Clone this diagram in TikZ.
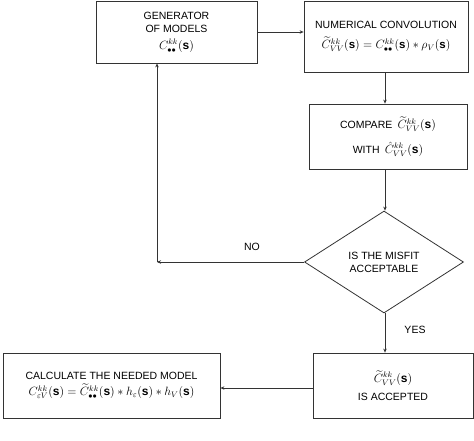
\documentclass[tikz,border=0pt]{standalone}
\usepackage{amsmath}
\usepackage{fontspec}
\setmainfont{Liberation Sans}
\usetikzlibrary{shapes.geometric,arrows.meta}
\begin{document}
\begin{tikzpicture}[x=1pt,y=-1pt,
  box/.style={draw=black!80,line width=0.8pt,align=center,inner sep=0pt,font=\fontsize{10.5}{13}\selectfont},
  link/.style={draw=black!80,line width=0.8pt,-{Stealth[length=4pt,width=3.5pt]}},
  lbl/.style={font=\fontsize{10.5}{13}\selectfont}]
\useasboundingbox (0,0) rectangle (474,440);
% boxes
\node[box,minimum width=161pt,minimum height=62pt] (gen) at (176.5,32) {GENERATOR\\OF MODELS\\[4pt]\fontsize{12}{14}\selectfont$C^{kk}_{\bullet\bullet}(\mathbf{s})$};
\node[box,minimum width=164pt,minimum height=71pt] (conv) at (386,36.5) {NUMERICAL CONVOLUTION\\[7pt]\fontsize{11.5}{14}\selectfont$\widetilde{C}^{kk}_{VV}(\mathbf{s})=C^{kk}_{\bullet\bullet}(\mathbf{s})*\rho_V(\mathbf{s})$};
\node[box,minimum width=158pt,minimum height=65pt] (comp) at (388,136.5) {COMPARE\enspace\fontsize{12}{14}\selectfont$\widetilde{C}^{kk}_{VV}(\mathbf{s})$\\[9pt]\fontsize{10.5}{13}\selectfont WITH\enspace\fontsize{12}{14}\selectfont$\hat{C}^{kk}_{VV}(\mathbf{s})$};
\node[box,diamond,aspect=1.56,minimum width=159pt,minimum height=102pt] (fit) at (384,262) {IS THE MISFIT\\ACCEPTABLE};
\node[box,minimum width=160pt,minimum height=65pt] (acc) at (393,385.5) {\fontsize{12}{14}\selectfont$\widetilde{C}^{kk}_{VV}(\mathbf{s})$\\[5pt]IS ACCEPTED};
\node[box,minimum width=217pt,minimum height=65pt] (calc) at (111.5,385.5) {CALCULATE THE NEEDED MODEL\\[3pt]\fontsize{12}{14}\selectfont$C^{kk}_{\varepsilon V}(\mathbf{s})=\widetilde{C}^{kk}_{\bullet\bullet}(\mathbf{s})*h_\varepsilon(\mathbf{s})*h_V(\mathbf{s})$};
% connectors
\coordinate (back) at (157,262);
\draw[link] (gen.east) -- (gen.east -| conv.west);
\draw[link] (conv.south -| 385,0) -- (comp.north -| 385,0);
\draw[link] (comp.south -| 385,0) -- (fit.north -| 385,0);
\draw[link] (fit.west) -- (back);
\draw[link] (back) -- (gen.south -| back);
\draw[link] (fit.south -| 385,0) -- (acc.north -| 385,0);
\draw[link] (acc.west |- 0,388) -- (calc.east |- 0,388);
% labels
\node[lbl] (no) at (252,247) {NO};
\node[lbl] (yes) at (415,330) {YES};
\end{tikzpicture}
\end{document}
